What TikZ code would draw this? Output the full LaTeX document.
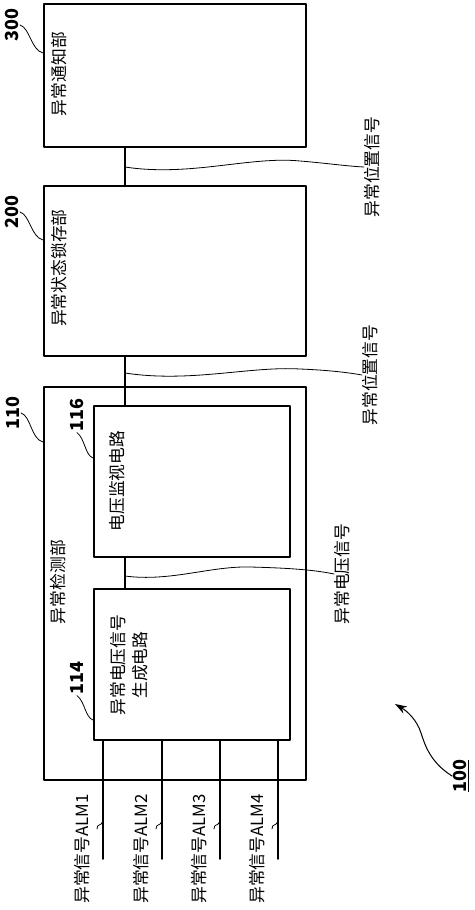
\documentclass[tikz,border=0pt]{standalone}
\usepackage{fontspec}
\setmainfont{Noto Sans CJK SC}
\usetikzlibrary{arrows.meta,calc}

\tikzset{
  blk/.style={draw,line width=1.6pt,inner sep=0pt,anchor=north west},
  txt/.style={rotate=90,inner sep=0pt,font=\fontsize{16.8}{22}\selectfont},
  num/.style={rotate=90,inner sep=1pt,font=\fontsize{18}{20}\selectfont\bfseries},
  wire/.style={line width=1.6pt},
  lead/.style={line width=0.8pt},
}

\begin{document}
\begin{tikzpicture}[x=1pt,y=-1pt,line join=round,line cap=round]
\useasboundingbox (0,0) rectangle (474,910);
% blocks
\node[blk,minimum width=262pt,minimum height=143pt] (n300) at (43,3) {};
\node[blk,minimum width=262pt,minimum height=170pt] (n200) at (43,185) {};
\node[blk,minimum width=262pt,minimum height=393pt] (n110) at (43,386) {};
\node[blk,minimum width=196pt,minimum height=151pt] (n116) at (93,405) {};
\node[blk,minimum width=196pt,minimum height=151pt] (n114) at (93,588) {};
% block texts
\node[txt] (t300) at (59,74) {异常通知部};
\node[txt] (t200) at (59,268) {异常状态锁存部};
\node[txt] (t110) at (58,582) {异常检测部};
\node[txt] (t116) at (117,481) {电压监视电路};
\node[txt,align=center] (t114) at (129,665) {异常电压信号\\生成电路};
% reference numbers
\node[num] (l300) at (12,25) {300};
\node[num] (l200) at (12,212) {200};
\node[num] (l110) at (13,413) {110};
\node[num] (l116) at (77,415) {116};
\node[num] (l114) at (77,678) {114};
\node[num] (l100) at (461,776) {\underline{100}};
\draw[lead] (l300.south) .. controls +(10,3) and +(-12,-3) .. ($(n300.north west)+(0,50)$);
\draw[lead] (l200.south) .. controls +(10,3) and +(-12,-3) .. ($(n200.north west)+(0,55)$);
\draw[lead] (l110.south) .. controls +(10,3) and +(-12,-3) .. ($(n110.north west)+(0,56)$);
\draw[lead] (l116.west) .. controls +(8,6) and +(-8,-3) .. ($(n116.north west)+(0,53)$);
\draw[lead] (l114.west) .. controls +(8,6) and +(-8,-3) .. ($(n114.north west)+(0,132)$);
% signal line
\coordinate (bus) at (125,0);
\draw[wire] (n300.south -| bus) -- (n200.north -| bus);
\draw[wire] (n200.south -| bus) -- (n116.north -| bus);
\draw[wire] (n116.south -| bus) -- (n114.north -| bus);
% signal names
\node[txt] (s1) at (372,167) {异常位置信号};
\node[txt] (s2) at (370,375) {异常位置信号};
\node[txt] (s3) at (342,574) {异常电压信号};
\coordinate (p1) at (125,167);
\coordinate (p2) at (125,373);
\coordinate (p3) at (125,576);
\draw[lead] (p1) .. controls (190,177) and (250,156) .. (300,161) .. controls (325,163) and (345,166) .. (s1.north);
\draw[lead] (p2) .. controls (190,383) and (250,366) .. (300,369) .. controls (325,370) and (345,372) .. (s2.north);
\draw[lead] (p3) .. controls (170,582) and (210,566) .. (250,567) .. controls (290,568) and (315,570) .. (s3.north);
% alarm inputs
\foreach \i/\x in {1/103,2/162,3/220,4/278}{
  \coordinate (alm\i) at (\x,859);
  \draw[wire] (n114.south -| alm\i) -- (alm\i);
  \node[txt] (a\i) at (\x-21,849) {异常信号ALM\i};
  \draw[lead] (\x-6,829) .. controls (\x-6,823) and (\x-2,827) .. (\x,821);
}
% device arrow
\coordinate (a100) at (395,704);
\draw[line width=1pt,-{Stealth[length=12pt,width=8pt]}] (l100.north) .. controls (430,762) and (425,745) .. (421,733) .. controls (417,720) and (407,711) .. (a100);
\end{tikzpicture}
\end{document}
